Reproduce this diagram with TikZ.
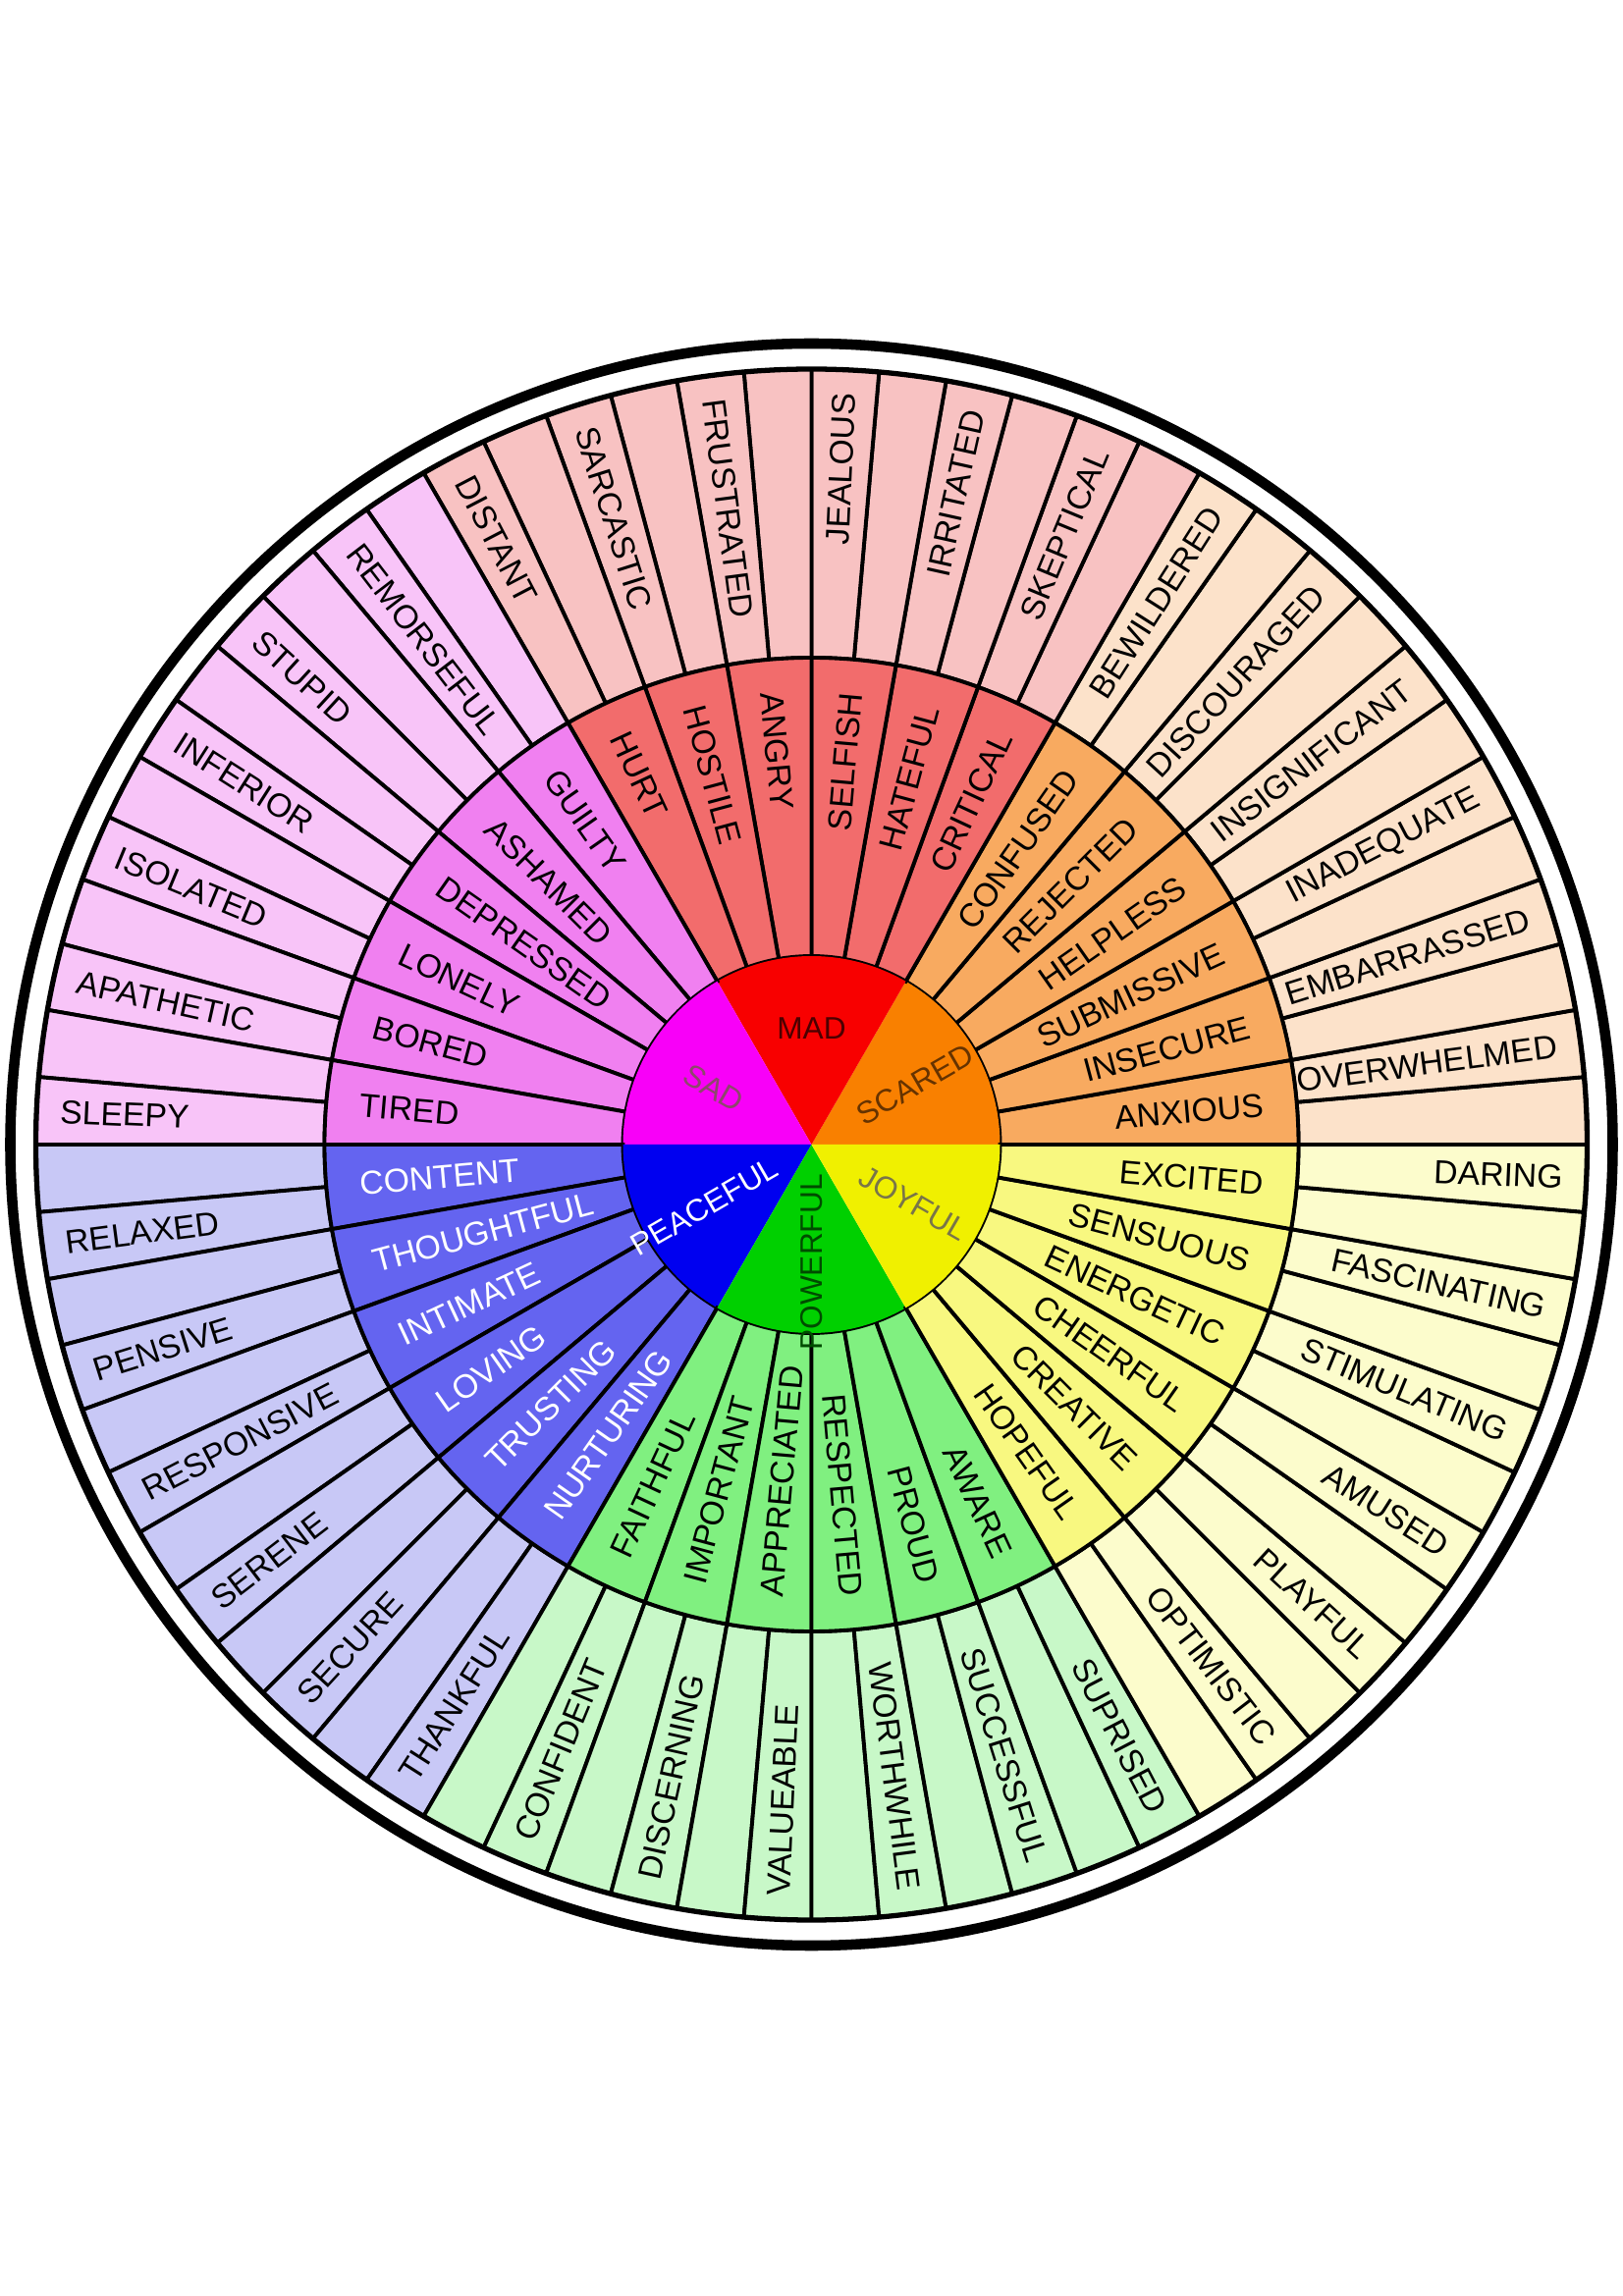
\documentclass[tikz,border=0pt]{standalone}
\usepackage{fontspec}
\setmainfont{Liberation Sans}
\definecolor{scI}{HTML}{F98000}\definecolor{scM}{HTML}{F8AA60}\definecolor{scO}{HTML}{FCE2CA}
\definecolor{madI}{HTML}{F80000}\definecolor{madM}{HTML}{F26C6C}\definecolor{madO}{HTML}{F8C2C2}
\definecolor{sadI}{HTML}{F800F8}\definecolor{sadM}{HTML}{F080F0}\definecolor{sadO}{HTML}{F8C4F8}
\definecolor{peI}{HTML}{0000F0}\definecolor{peM}{HTML}{6464F0}\definecolor{peO}{HTML}{C8C8F6}
\definecolor{poI}{HTML}{00D000}\definecolor{poM}{HTML}{80F080}\definecolor{poO}{HTML}{C8F8C8}
\definecolor{joI}{HTML}{F0F000}\definecolor{joM}{HTML}{F8F880}\definecolor{joO}{HTML}{FCFCCC}
\begin{document}
\begin{tikzpicture}[x=0.1mm,y=0.1mm,
  wd/.style={font=\fontsize{9.6}{11}\selectfont,inner sep=1pt},
  cw/.style={font=\fontsize{9}{11}\selectfont,inner sep=1pt}]
\useasboundingbox (-826.5,-1173) rectangle (826.5,1166);
\fill[white] (-826.5,-1173) rectangle (826.5,1166);
\foreach \s/\ci/\cm/\co in {0/scI/scM/scO,60/madI/madM/madO,120/sadI/sadM/sadO,180/peI/peM/peO,240/poI/poM/poO,300/joI/joM/joO}{
  \foreach \k in {0,...,11}{
    \pgfmathsetmacro\a{\s+5*\k}\pgfmathsetmacro\b{\a+5}
    \filldraw[fill=\co,draw=black,line width=1.1] (\a:496) -- (\a:790) arc[start angle=\a,end angle=\b,radius=790] -- (\b:496) arc[start angle=\b,end angle=\a,radius=496] -- cycle;
  }
  \foreach \k in {0,...,5}{
    \pgfmathsetmacro\a{\s+10*\k}\pgfmathsetmacro\b{\a+10}
    \filldraw[fill=\cm,draw=black,line width=1.1] (\a:192) -- (\a:496) arc[start angle=\a,end angle=\b,radius=496] -- (\b:192) arc[start angle=\b,end angle=\a,radius=192] -- cycle;
  }
  \pgfmathsetmacro\b{\s+60}
  \fill[\ci] (0,0) -- (\s:192) arc[start angle=\s,end angle=\b,radius=192] -- cycle;
}
\draw[line width=1.5] (0,0) circle (790);
\draw[line width=3] (0,0) circle (816);
\foreach \w [count=\i from 0] in {OVERWHELMED,EMBARRASSED,INADEQUATE,INSIGNIFICANT,DISCOURAGED,BEWILDERED,SKEPTICAL,IRRITATED,JEALOUS,FRUSTRATED,SARCASTIC,DISTANT,REMORSEFUL,STUPID,INFERIOR,ISOLATED,APATHETIC,SLEEPY,RELAXED,PENSIVE,RESPONSIVE,SERENE,SECURE,THANKFUL,CONFIDENT,DISCERNING,VALUEABLE,WORTHWHILE,SUCCESSFUL,SUPRISED,OPTIMISTIC,PLAYFUL,AMUSED,STIMULATING,FASCINATING,DARING}{
  \pgfmathsetmacro\ang{10*\i+7.5}
  \pgfmathsetmacro\c{cos(\ang)}
  \ifdim\c pt>0pt
    \node[wd,anchor=east,rotate=\ang] (o\i) at (\ang:770) {\w};
  \else
    \node[wd,anchor=west,rotate=\ang+180] (o\i) at (\ang:770) {\w};
  \fi
}
\foreach \w/\tc [count=\i from 0] in {ANXIOUS/black,INSECURE/black,SUBMISSIVE/black,HELPLESS/black,REJECTED/black,CONFUSED/black,CRITICAL/black,HATEFUL/black,SELFISH/black,ANGRY/black,HOSTILE/black,HURT/black,GUILTY/black,ASHAMED/black,DEPRESSED/black,LONELY/black,BORED/black,TIRED/black,CONTENT/white,THOUGHTFUL/white,INTIMATE/white,LOVING/white,TRUSTING/white,NURTURING/white,FAITHFUL/black,IMPORTANT/black,APPRECIATED/black,RESPECTED/black,PROUD/black,AWARE/black,HOPEFUL/black,CREATIVE/black,CHEERFUL/black,ENERGETIC/black,SENSUOUS/black,EXCITED/black}{
  \pgfmathsetmacro\ang{10*\i+5}
  \pgfmathsetmacro\c{cos(\ang)}
  \ifdim\c pt>0pt
    \node[wd,text=\tc,anchor=east,rotate=\ang] (m\i) at (\ang:466) {\w};
  \else
    \node[wd,text=\tc,anchor=west,rotate=\ang+180] (m\i) at (\ang:466) {\w};
  \fi
}
\node[cw,text=black!70!red] (mad) at (90:118) {MAD};
\node[cw,text=black!60!orange,rotate=30] (scared) at (30:122) {SCARED};
\node[cw,text=black!50!magenta,rotate=-30] (sad) at (150:115) {SAD};
\node[cw,text=white,rotate=30] (peaceful) at (210:126) {PEACEFUL};
\node[cw,text=black!70!green,rotate=90] (powerful) at (270:120) {POWERFUL};
\node[cw,text=black!60!yellow,rotate=-30] (joyful) at (330:120) {JOYFUL};
\end{tikzpicture}
\end{document}
